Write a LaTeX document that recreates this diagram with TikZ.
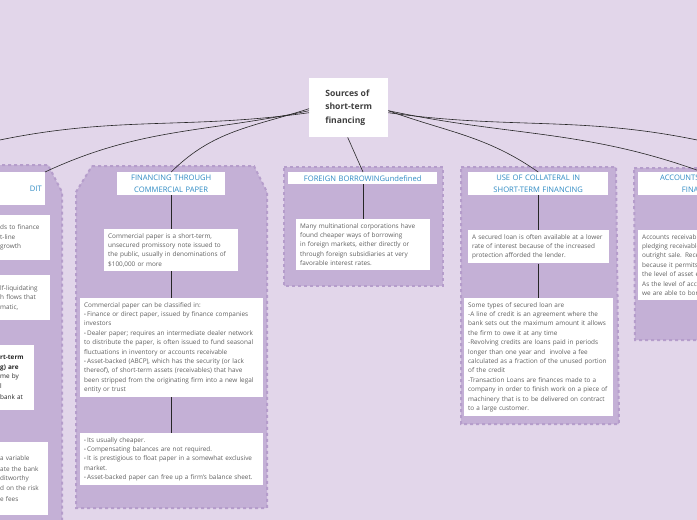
\documentclass[tikz,border=0pt]{standalone}
\usepackage{fontspec}
\setmainfont{Open Sans}
\definecolor{bgc}{HTML}{E2D6EA}
\definecolor{col}{HTML}{C4B0D6}
\definecolor{colb}{HTML}{B59DCB}
\definecolor{hd}{HTML}{2F8BC4}
\definecolor{tx}{HTML}{606060}
\newcommand{\bu}{{\fontsize{5}{5}\selectfont\textbullet}\,}
\begin{document}
\hyphenpenalty=10000 \exhyphenpenalty=10000
\begin{tikzpicture}[x=1pt,y=-1pt,
 zone/.style={fill=col,draw=colb,line width=2pt,dash pattern=on 3pt off 3pt},
 box/.style={fill=white,draw=none,inner sep=4pt,align=left,text=tx,font=\fontsize{6.4}{9.4}\selectfont,anchor=north west},
 head/.style={fill=white,draw=none,inner sep=3pt,align=center,text=hd,font=\fontsize{7.6}{11.5}\selectfont,anchor=north west},
 con/.style={draw=black!85,line width=0.6pt}]
\useasboundingbox (0,0) rectangle (697,520);
\fill[bgc] (0,0) rectangle (697,520);
\clip (0,0) rectangle (697,520);
% zones
\draw[zone] (-10,165) -- (48,165) -- (62,192) -- (62,525) -- (-10,525) -- cycle;
\draw[zone] (92,166) -- (254,166) -- (267,192) -- (267,508) -- (76,508) -- (76,192) -- cycle;
\draw[zone] (284,167) -- (443,167) -- (443,286) -- (284,286) -- cycle;
\draw[zone] (461,167) -- (616,167) -- (619,424) -- (461,424) -- cycle;
\draw[zone] (634,168) -- (705,168) -- (705,340) -- (635,340) -- cycle;
% root
\node[fill=white,inner sep=4pt,align=left,text=black!75,font=\bfseries\fontsize{8.6}{13.5}\selectfont,minimum width=79pt,minimum height=59pt,anchor=north west] (root) at (309,78) {Sources of\\short-term\\financing};
% credit column (clipped)
\node[head,minimum height=33pt,text width=52pt,anchor=north east] (h1) at (45,172) {\hfill DIT};
\node[box,text width=46pt,minimum height=45pt] (a1) at (-4,215) {ds to finance\\t-line\\growth};
\node[box,text width=46pt,minimum height=45pt] (a2) at (-4,275) {lf-liquidating\\h flows that\\matic,};
\node[box,text width=30pt,minimum height=65pt,text=black!85] (a3) at (-4,345) {\textbf{rt-term}\\\textbf{g) are}\\me by\\l\\[2pt] bank at};
\node[box,text width=44pt,minimum height=73pt] (a4) at (-4,442) {a variable\\[1pt]ate the bank\\ditworthy\\d on the risk\\[2pt]e fees};
% commercial paper
\node[head,text width=102pt] (h2) at (117,172) {FINANCING THROUGH\\COMMERCIAL PAPER};
\node[box,text width=126pt] (b1) at (104,229) {Commercial paper is a short-term, unsecured promissory note issued to the public, usually in denominations of \$100,000 or more};
\node[box,text width=175pt] (b2) at (80,298) {Commercial paper can be classified in:\\
\bu Finance or direct paper, issued by finance companies investors\\
\bu Dealer paper; requires an intermediate dealer network to distribute the paper, is often issued to fund seasonal fluctuations in inventory or accounts receivable\\
\bu Asset-backed (ABCP), which has the security (or lack thereof), of short-term assets (receivables) that have been stripped from the originating firm into a new legal entity or trust};
\node[box,text width=175pt] (b3) at (80,433) {\bu Its usually cheaper.\\
\bu Compensating balances are not required.\\
\bu It is prestigious to float paper in a somewhat exclusive market.\\
\bu Asset-backed paper can free up a firm's balance sheet.};
% foreign
\node[head,text width=143pt] (h3) at (288,172) {FOREIGN BORROWINGundefined};
\node[box,text width=126pt] (c1) at (296,219) {Many multinational corporations have found cheaper ways of borrowing in foreign markets, either directly or through foreign subsidiaries at very favorable interest rates.};
% collateral
\node[head,text width=134pt] (h4) at (468,172) {USE OF COLLATERAL IN\\SHORT-TERM FINANCING};
\node[box,text width=133pt] (d1) at (468,230) {A secured loan is often available at a lower rate of interest because of the increased protection afforded the lender.};
\node[box,text width=141pt] (d2) at (464,298) {Some types of secured loan are\\
-A line of credit is an agreement where the bank sets out the maximum amount it allows the firm to owe it at any time\\
-Revolving credits are loans paid in periods longer than one year and\ \ involve a fee calculated as a fraction of the unused portion of the credit\\
-Transaction Loans are finances made to a company in order to finish work on a piece of machinery that is to be delivered on contract to a large customer.};
% accounts
\node[head,text width=122pt] (h5) at (638,172) {ACCOUNTS RECEIVABLE\\FINANCING};
\node[box,text width=140pt] (e1) at (638,230) {Accounts receivable financing include pledging receivables as collateral for a loan or outright sale. Receivables financing is popular because it permits borrowing to be tied to the level of asset expansion.\\As the level of accounts receivable goes up, we are able to borrow more.};
% connectors
\coordinate (l1) at (-5,141);
\coordinate (r1) at (702,141);
\draw[con] ([yshift=-5pt]root.west) to[out=188,in=12] (l1);
\draw[con] ([yshift=-3pt]root.west) to[out=192,in=25] (h1.north east);
\draw[con] ([yshift=-1pt]root.west) to[out=198,in=45] (h2.north);
\draw[con] ([xshift=-1pt]root.south) -- (h3.north -| 363,0);
\draw[con] ([yshift=-3pt]root.east) to[out=-20,in=145] (h4.north);
\draw[con] ([yshift=-5pt]root.east) to[out=-8,in=168] (r1);
\draw[con] ([yshift=-3pt]root.east) to[out=-12,in=160] (h5.north);
\draw[con,line width=0.5pt] (h2.south) -- (b1.north);
\draw[con,line width=0.5pt] (b1.south) -- (b1.south |- b2.north);
\draw[con,line width=0.5pt] (b2.south) -- (b2.south |- b3.north);
\draw[con,line width=0.5pt] (h3.south -| c1.north) -- (c1.north);
\draw[con,line width=0.5pt] (h4.south) -- (h4.south |- d1.north);
\draw[con,line width=0.5pt] (d1.south) -- (d1.south |- d2.north);
\draw[con,line width=0.5pt] (h5.south) -- (h5.south |- e1.north);
\end{tikzpicture}
\end{document}
